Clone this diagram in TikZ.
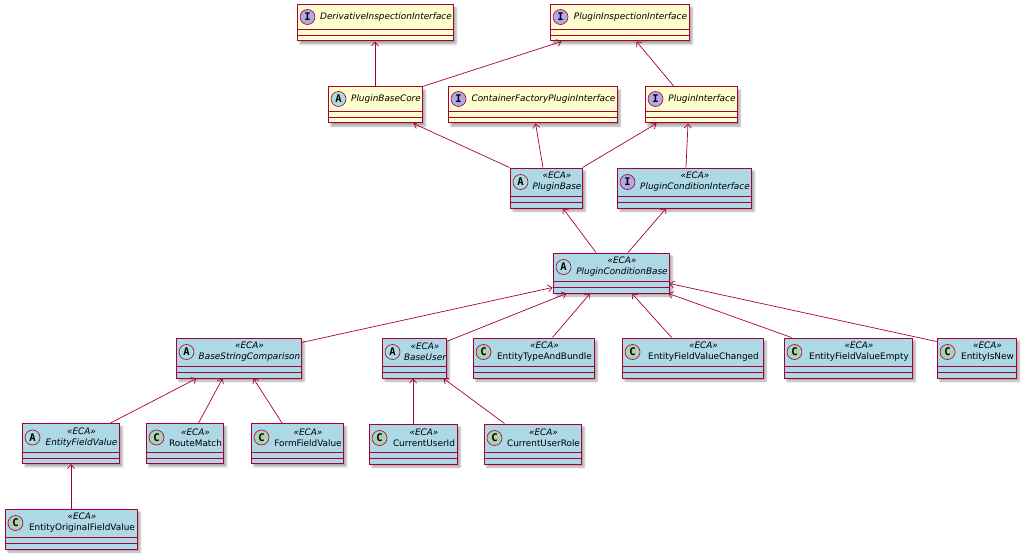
\documentclass[tikz,border=0pt]{standalone}
\usepackage{fontspec}
\setmainfont{DejaVu Sans}
\newfontfamily\badgefont{DejaVu Sans Mono}
\usetikzlibrary{arrows.meta,shadows.blur}
\definecolor{umlred}{HTML}{A80036}
\definecolor{umlyellow}{HTML}{FEFECE}
\definecolor{umlblue}{HTML}{ADD8E6}
\definecolor{circI}{HTML}{B4A7E5}
\definecolor{circA}{HTML}{A9DCDF}
\definecolor{circC}{HTML}{ADD1B2}
\newcommand\eca{{\itshape «ECA»}\\}
\begin{document}
\begin{tikzpicture}[x=1pt,y=-1pt,
    box/.style={draw=umlred,line width=1pt,inner sep=0pt,
      blur shadow={shadow xshift=3pt,shadow yshift=-3pt,shadow blur radius=2pt,shadow opacity=35}},
    badge/.style={circle,draw=umlred,line width=.6pt,minimum size=15pt,inner sep=0pt,
      font=\fontsize{10.5}{10.5}\selectfont\badgefont\bfseries},
    classname/.style={align=center,inner sep=0pt,font=\fontsize{8.9}{11}\selectfont},
    inh/.style={draw=umlred,line width=.7pt,-{Straight Barb[length=4pt,width=7pt]}}]
  \useasboundingbox (0,0) rectangle (1025,559);
  % classes: name/centre x/centre y/width/height/kind/fill/text
  \foreach \n/\x/\y/\w/\h/\k/\c/\t in {
      dii/375/23/156/36/I/umlyellow/{\itshape DerivativeInspectionInterface},
      pii/619.5/23/139/36/I/umlyellow/{\itshape PluginInspectionInterface},
      pbc/375/105/94/36/A/umlyellow/{\itshape PluginBaseCore},
      cfpi/532.5/105/169/36/I/umlyellow/{\itshape ContainerFactoryPluginInterface},
      pi/691/105/92/36/I/umlyellow/{\itshape PluginInterface},
      pb/546/188/72/40/A/umlblue/{\eca\itshape PluginBase},
      pci/684/188/134/40/I/umlblue/{\eca\itshape PluginConditionInterface},
      pcb/611/273/116/40/A/umlblue/{\eca\itshape PluginConditionBase},
      bsc/238.5/358/125/40/A/umlblue/{\eca\itshape BaseStringComparison},
      bu/414/358/64/40/A/umlblue/{\eca\itshape BaseUser},
      etab/533.5/358/121/40/C/umlblue/{\eca EntityTypeAndBundle},
      efvc/692.5/358/141/40/C/umlblue/{\eca EntityFieldValueChanged},
      efve/848/358/128/40/C/umlblue/{\eca EntityFieldValueEmpty},
      ein/976.5/358/79/40/C/umlblue/{\eca EntityIsNew},
      efv/70.5/443.5/97/40/A/umlblue/{\eca\itshape EntityFieldValue},
      rm/184.5/443.5/77/40/C/umlblue/{\eca RouteMatch},
      ffv/297/443.5/92/40/C/umlblue/{\eca FormFieldValue},
      cui/413/444/88/40/C/umlblue/{\eca CurrentUserId},
      cur/532.5/444/97/40/C/umlblue/{\eca CurrentUserRole},
      eofv/71/529/132/40/C/umlblue/{\eca EntityOriginalFieldValue}}{
    \node[box,fill=\c,minimum width=\w pt,minimum height=\h pt] (\n) at (\x,\y) {};
    \draw[umlred,line width=1pt] ([yshift=12pt]\n.south west) -- ([yshift=12pt]\n.south east);
    \draw[umlred,line width=1pt] ([yshift=6pt]\n.south west) -- ([yshift=6pt]\n.south east);
    \node[badge,fill=circ\k] at ([xshift=11pt,yshift=6pt]\n.west) {\k};
    \node[classname] at ([xshift=11pt,yshift=6pt]\n.center) {\t};
  }
  % inheritance
  \draw[inh] (pbc.north) -- (dii.south);
  \draw[inh] (pbc.north east) -- ([xshift=12pt]pii.south west);
  \draw[inh] ([xshift=-17pt]pi.north) -- ([xshift=17pt]pii.south);
  \draw[inh] (pb.north west) -- ([xshift=-9pt]pbc.south east);
  \draw[inh] ([xshift=-3pt]pb.north) -- ([xshift=3pt]cfpi.south);
  \draw[inh] (pb.north east) -- ([xshift=12pt]pi.south west);
  \draw[inh] ([xshift=2pt]pci.north) -- ([xshift=-3pt]pi.south);
  \draw[inh] ([xshift=-15pt]pcb.north) -- ([xshift=17pt]pb.south);
  \draw[inh] ([xshift=17pt]pcb.north) -- ([xshift=-18pt]pci.south);
  \draw[inh] ([yshift=-5pt]bsc.north east) -- ([yshift=6pt]pcb.south west);
  \draw[inh] ([yshift=-4pt]bu.north east) -- ([xshift=14pt]pcb.south west);
  \draw[inh] ([xshift=19pt]etab.north) -- ([xshift=-21pt]pcb.south);
  \draw[inh] ([xshift=-21pt]efvc.north) -- ([xshift=21pt]pcb.south);
  \draw[inh] ([xshift=8pt]efve.north west) -- ([xshift=-1pt]pcb.south east);
  \draw[inh] ([yshift=-4pt]ein.north west) -- ([yshift=10pt]pcb.south east);
  \draw[inh] ([xshift=-9pt]efv.north east) -- ([xshift=-42pt]bsc.south);
  \draw[inh] ([xshift=14pt]rm.north) -- ([xshift=-16pt]bsc.south);
  \draw[inh] ([xshift=-15pt]ffv.north) -- ([xshift=15pt]bsc.south);
  \draw[inh] (cui.north) -- (cui.north |- bu.south);
  \draw[inh] ([xshift=-28pt]cur.north) -- ([xshift=-3pt]bu.south east);
  \draw[inh] (eofv.north) -- (eofv.north |- efv.south);
\end{tikzpicture}
\end{document}
